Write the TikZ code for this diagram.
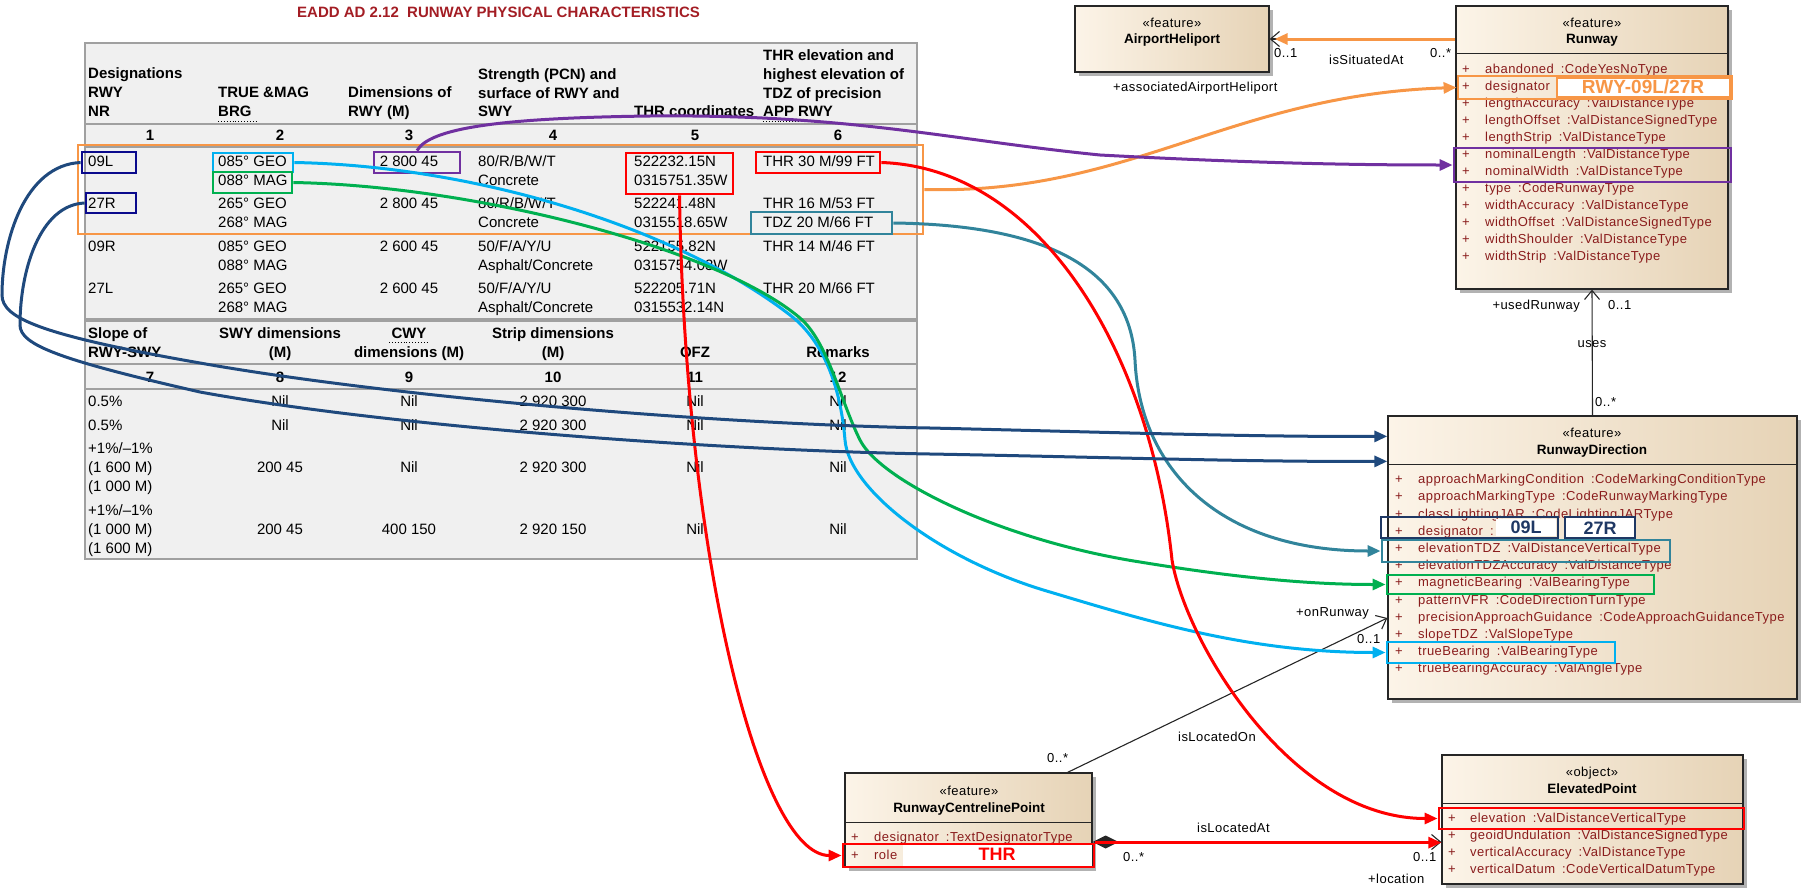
\documentclass[tikz,border=0pt]{standalone}
\usepackage{fontspec}
\setmainfont{Liberation Sans}
\newfontfamily\umlf[LetterSpace=3.5]{Liberation Sans}
\usetikzlibrary{fit,arrows.meta,calc,shadows}
\definecolor{tblbg}{HTML}{F0F0F0}
\definecolor{tblln}{HTML}{A0A0A0}
\definecolor{ttl}{HTML}{A31D24}
\definecolor{cOr}{HTML}{F79646}
\definecolor{cNv}{HTML}{1F497D}
\definecolor{cNvT}{HTML}{0A0A8C}
\definecolor{cCy}{HTML}{00B0F0}
\definecolor{cGr}{HTML}{00B050}
\definecolor{cPu}{HTML}{7030A0}
\definecolor{cTe}{HTML}{31849B}
\definecolor{cRd}{HTML}{FF0000}
\definecolor{umlL}{HTML}{FCF4E8}
\definecolor{umlR}{HTML}{E6D3B6}
\definecolor{attr}{HTML}{8A1C1C}
\definecolor{rdnv}{HTML}{1F3864}
\begin{document}
\begin{tikzpicture}[x=1pt,y=-1pt,
  tdW/.style={font=\fontsize{15}{18}\selectfont, inner sep=0pt, anchor=base west, yshift=-5.3pt},
  tdC/.style={font=\fontsize{15}{18}\selectfont, inner sep=0pt, anchor=base, yshift=-5.3pt},
  thW/.style={font=\fontsize{15}{18}\selectfont\bfseries, inner sep=0pt, anchor=base west, yshift=-5.3pt},
  thC/.style={font=\fontsize{15}{18}\selectfont\bfseries, inner sep=0pt, anchor=base, yshift=-5.3pt},
  umlbox/.style={draw=black!85, line width=1.3pt, left color=umlL, right color=umlR, inner sep=0pt,
     drop shadow={shadow xshift=4pt, shadow yshift=-4pt, fill=black!30, opacity=1}},
  divl/.style={draw=black!85, line width=1.3pt},
  stereo/.style={font=\umlf\fontsize{13}{15}\selectfont, inner sep=0pt, anchor=base, yshift=-4.6pt},
  cname/.style={font=\fontsize{13.5}{16}\selectfont\bfseries, inner sep=0pt, anchor=base, yshift=-4.8pt},
  attrS/.style={font=\umlf\fontsize{13}{15}\selectfont, text=attr, inner sep=0pt, anchor=base west, yshift=-4.6pt},
  plusS/.style={font=\fontsize{13}{15}\selectfont, text=attr, inner sep=0pt, anchor=base, yshift=-4.6pt},
  lab/.style={font=\umlf\fontsize{13}{15}\selectfont, inner sep=0pt, anchor=base west, yshift=-4.6pt},
  hlbox/.style={draw, line width=2.8pt, inner sep=0pt},
  hlcurve/.style={line width=3pt, -{Triangle[length=13pt,width=11pt]}},
  assoc/.style={draw=black!85, line width=1.1pt},
  barb/.style={-{Straight Barb[length=9pt,width=15pt]}}
]
\useasboundingbox (0,0) rectangle (1805,894);

% ---------------- title ----------------
\node[font=\fontsize{15}{18}\selectfont\bfseries, text=ttl, inner sep=0pt, anchor=base west, yshift=-5.3pt] (title) at (297,12) {EADD AD 2.12\ \ RUNWAY PHYSICAL CHARACTERISTICS};

% ---------------- table ----------------
\node[fit={(85,43) (917,559)}, inner sep=0pt, fill=tblbg, draw=tblln, line width=1.5pt] (tbl) {};
\draw[tblln, line width=1.5pt] (85,124) -- (917,124);
\draw[tblln, line width=1.5pt] (85,147) -- (917,147);
\draw[tblln, line width=3.5pt] (85,320) -- (917,320);
\draw[tblln, line width=1.5pt] (85,364) -- (917,364);
\draw[tblln, line width=1.5pt] (85,389) -- (917,389);
\draw[dotted, line width=0.9pt] (218,121) -- (257,121);
\draw[dotted, line width=0.9pt] (763,121) -- (799,121);
\draw[dotted, line width=0.9pt] (389,342) -- (429,342);

\node[thW] (h1a) at (88,73) {Designations};
\node[thW] (h1b) at (88,92) {RWY};
\node[thW] (h1c) at (88,111) {NR};
\node[thW] (h2a) at (218,92) {TRUE \&MAG};
\node[thW] (h2b) at (218,111) {BRG};
\node[thW] (h3a) at (348,92) {Dimensions of};
\node[thW] (h3b) at (348,111) {RWY (M)};
\node[thW] (h4a) at (478,74) {Strength (PCN) and};
\node[thW] (h4b) at (478,93) {surface of RWY and};
\node[thW] (h4c) at (478,111) {SWY};
\node[thW] (h5a) at (634,111) {THR coordinates};
\node[thW] (h6a) at (763,55) {THR elevation and};
\node[thW] (h6b) at (763,74) {highest elevation of};
\node[thW] (h6c) at (763,93) {TDZ of precision};
\node[thW] (h6d) at (763,111) {APP RWY};
\node[thC] (n1) at (150,135) {1};
\node[thC] (n2) at (280,135) {2};
\node[thC] (n3) at (409,135) {3};
\node[thC] (n4) at (553,135) {4};
\node[thC] (n5) at (695,135) {5};
\node[thC] (n6) at (838,135) {6};

\node[tdW] (d1a) at (88,161) {09L};
\node[tdW] (d1b) at (218,161) {085° GEO};
\node[tdC] (d1c) at (409,161) {2 800 45};
\node[tdW] (d1d) at (478,161) {80/R/B/W/T};
\node[tdW] (d1e) at (634,161) {522232.15N};
\node[tdW] (d1f) at (763,161) {THR 30 M/99 FT};
\node[tdW] (d1g) at (218,180) {088° MAG};
\node[tdW] (d1h) at (478,180) {Concrete};
\node[tdW] (d1i) at (634,180) {0315751.35W};
\node[tdW] (d2a) at (88,203) {27R};
\node[tdW] (d2b) at (218,203) {265° GEO};
\node[tdC] (d2c) at (409,203) {2 800 45};
\node[tdW] (d2d) at (478,203) {80/R/B/W/T};
\node[tdW] (d2e) at (634,203) {522241.48N};
\node[tdW] (d2f) at (763,203) {THR 16 M/53 FT};
\node[tdW] (d2g) at (218,222) {268° MAG};
\node[tdW] (d2h) at (478,222) {Concrete};
\node[tdW] (d2i) at (634,222) {0315518.65W};
\node[tdW] (d2j) at (763,222) {TDZ 20 M/66 FT};
\node[tdW] (d3a) at (88,246) {09R};
\node[tdW] (d3b) at (218,246) {085° GEO};
\node[tdC] (d3c) at (409,246) {2 600 45};
\node[tdW] (d3d) at (478,246) {50/F/A/Y/U};
\node[tdW] (d3e) at (634,246) {522155.82N};
\node[tdW] (d3f) at (763,246) {THR 14 M/46 FT};
\node[tdW] (d3g) at (218,265) {088° MAG};
\node[tdW] (d3h) at (478,265) {Asphalt/Concrete};
\node[tdW] (d3i) at (634,265) {0315754.03W};
\node[tdW] (d4a) at (88,288) {27L};
\node[tdW] (d4b) at (218,288) {265° GEO};
\node[tdC] (d4c) at (409,288) {2 600 45};
\node[tdW] (d4d) at (478,288) {50/F/A/Y/U};
\node[tdW] (d4e) at (634,288) {522205.71N};
\node[tdW] (d4f) at (763,288) {THR 20 M/66 FT};
\node[tdW] (d4g) at (218,307) {268° MAG};
\node[tdW] (d4h) at (478,307) {Asphalt/Concrete};
\node[tdW] (d4i) at (634,307) {0315532.14N};

\node[thW] (k1a) at (88,333) {Slope of};
\node[thW] (k1b) at (88,352) {RWY-SWY};
\node[thC] (k2a) at (280,333) {SWY dimensions};
\node[thC] (k2b) at (280,352) {(M)};
\node[thC] (k3a) at (409,333) {CWY};
\node[thC] (k3b) at (409,352) {dimensions (M)};
\node[thC] (k4a) at (553,333) {Strip dimensions};
\node[thC] (k4b) at (553,352) {(M)};
\node[thC] (k5a) at (695,352) {OFZ};
\node[thC] (k6a) at (838,352) {Remarks};
\node[thC] (n7) at (150,377) {7};
\node[thC] (n8) at (280,377) {8};
\node[thC] (n9) at (409,377) {9};
\node[thC] (n10) at (553,377) {10};
\node[thC] (n11) at (695,377) {11};
\node[thC] (n12) at (838,377) {12};

\node[tdW] (e1a) at (88,401) {0.5\%};
\node[tdC] (e1b) at (280,401) {Nil};
\node[tdC] (e1c) at (409,401) {Nil};
\node[tdC] (e1d) at (553,401) {2 920 300};
\node[tdC] (e1e) at (695,401) {Nil};
\node[tdC] (e1f) at (838,401) {Nil};
\node[tdW] (e2a) at (88,425) {0.5\%};
\node[tdC] (e2b) at (280,425) {Nil};
\node[tdC] (e2c) at (409,425) {Nil};
\node[tdC] (e2d) at (553,425) {2 920 300};
\node[tdC] (e2e) at (695,425) {Nil};
\node[tdC] (e2f) at (838,425) {Nil};
\node[tdW] (e3a) at (88,448) {+1\%/–1\%};
\node[tdW] (e3g) at (88,467) {(1 600 M)};
\node[tdW] (e3h) at (88,486) {(1 000 M)};
\node[tdC] (e3b) at (280,467) {200 45};
\node[tdC] (e3c) at (409,467) {Nil};
\node[tdC] (e3d) at (553,467) {2 920 300};
\node[tdC] (e3e) at (695,467) {Nil};
\node[tdC] (e3f) at (838,467) {Nil};
\node[tdW] (e4a) at (88,510) {+1\%/–1\%};
\node[tdW] (e4g) at (88,529) {(1 000 M)};
\node[tdW] (e4h) at (88,548) {(1 600 M)};
\node[tdC] (e4b) at (280,529) {200 45};
\node[tdC] (e4c) at (409,529) {400 150};
\node[tdC] (e4d) at (553,529) {2 920 150};
\node[tdC] (e4e) at (695,529) {Nil};
\node[tdC] (e4f) at (838,529) {Nil};

% ---------------- UML classes ----------------
\node[umlbox, fit={(1075,6) (1269,72)}] (ah) {};
\node[stereo] (ahs) at (1172,23) {«feature»};
\node[cname] (ahn) at (1172,39) {AirportHeliport};

\node[umlbox, fit={(1456,6) (1728,289)}] (rw) {};
\draw[divl] ($(rw.north west)+(0,48)$) -- ($(rw.north east)+(0,48)$);
\node[stereo] (rws) at (1592,23) {«feature»};
\node[cname] (rwn) at (1592,39) {Runway};
\foreach \n/\t [count=\i from 0] in {abandoned/CodeYesNoType, designator/{}, lengthAccuracy/ValDistanceType, lengthOffset/ValDistanceSignedType, lengthStrip/ValDistanceType, nominalLength/ValDistanceType, nominalWidth/ValDistanceType, type/CodeRunwayType, widthAccuracy/ValDistanceType, widthOffset/ValDistanceSignedType, widthShoulder/ValDistanceType, widthStrip/ValDistanceType}{
  \node[plusS] (rwp\i) at (1466,{69+17*\i}) {+};
  \node[attrS] (rwa\i) at (1485,{69+17*\i}) {\n\hspace{7pt}:\t};
}

\node[umlbox, fit={(1388,416) (1797,699)}] (rd) {};
\draw[divl] ($(rd.north west)+(0,49)$) -- ($(rd.north east)+(0,49)$);
\node[stereo] (rds) at (1592,433) {«feature»};
\node[cname] (rdn) at (1592,450) {RunwayDirection};
\foreach \n/\t [count=\i from 0] in {approachMarkingCondition/CodeMarkingConditionType, approachMarkingType/CodeRunwayMarkingType, classLightingJAR/CodeLightingJARType, designator/{}, elevationTDZ/ValDistanceVerticalType, elevationTDZAccuracy/ValDistanceType, magneticBearing/ValBearingType, patternVFR/CodeDirectionTurnType, precisionApproachGuidance/CodeApproachGuidanceType, slopeTDZ/ValSlopeType, trueBearing/ValBearingType, trueBearingAccuracy/ValAngleType}{
  \node[plusS] (rdp\i) at (1399,{479+17.2*\i}) {+};
  \node[attrS] (rda\i) at (1418,{479+17.2*\i}) {\n\hspace{7pt}:\t};
}

\node[umlbox, fit={(845,773) (1092,867)}] (rcp) {};
\draw[divl] ($(rcp.north west)+(0,50)$) -- ($(rcp.north east)+(0,50)$);
\node[stereo] (rcps) at (969,791) {«feature»};
\node[cname] (rcpn) at (969,808) {RunwayCentrelinePoint};
\node[plusS] (rcpp0) at (855,837) {+};
\node[attrS] (rcpa0) at (874,837) {designator\hspace{7pt}:TextDesignatorType};
\node[plusS] (rcpp1) at (855,855) {+};
\node[attrS] (rcpa1) at (874,855) {role};

\node[umlbox, fit={(1442,755) (1743,884)}] (ep) {};
\draw[divl] ($(ep.north west)+(0,49)$) -- ($(ep.north east)+(0,49)$);
\node[stereo] (eps) at (1592,772) {«object»};
\node[cname] (epn) at (1592,789) {ElevatedPoint};
\foreach \n/\t [count=\i from 0] in {elevation/ValDistanceVerticalType, geoidUndulation/ValDistanceSignedType, verticalAccuracy/ValDistanceType, verticalDatum/CodeVerticalDatumType}{
  \node[plusS] (epp\i) at (1452,{818+17*\i}) {+};
  \node[attrS] (epa\i) at (1470,{818+17*\i}) {\n\hspace{7pt}:\t};
}

% ---------------- black associations ----------------
\draw[assoc, barb] (rw.west |- ah.east) -- (ah.east);
\draw[assoc, barb] (rd.north) -- (rw.south);
\coordinate (rcpon) at ($(rcp.north east)+(-25,0)$);
\coordinate (rdon) at ($(rd.west)+(0,60.5)$);
\draw[assoc, barb] (rcpon) -- (rdon);
\coordinate (rcpat) at ($(rcp.east)+(0,22)$);
\draw[assoc, {Diamond[length=26pt,width=13pt]}-{Straight Barb[length=9pt,width=15pt]}] (rcpat) -- (ep.west |- rcpat);

% labels
\node[lab] (l1) at (1274,53) {0..1};
\node[lab] (l2) at (1329,60) {isSituatedAt};
\node[lab] (l3) at (1430,53) {0..*};
\node[lab] (l4) at (1113,87) {+associatedAirportHeliport};
\node[lab, anchor=base east] (l5) at (1580,305) {+usedRunway};
\node[lab] (l6) at (1608,305) {0..1};
\node[lab, anchor=base] (l7) at (1592,343) {uses};
\node[lab] (l8) at (1595,402) {0..*};
\node[lab] (l9) at (1296,612) {+onRunway};
\node[lab] (l10) at (1357,639) {0..1};
\node[lab] (l11) at (1178,737) {isLocatedOn};
\node[lab] (l12) at (1047,758) {0..*};
\node[lab] (l13) at (1197,828) {isLocatedAt};
\node[lab] (l14) at (1123,857) {0..*};
\node[lab] (l15) at (1413,857) {0..1};
\node[lab] (l16) at (1368,879) {+location};

% ---------------- highlight boxes: table ----------------
\node[hlbox, draw=cOr, fit={(78,145) (923,234)}] (borng) {};
\node[hlbox, draw=cNvT, fit={(82,152) (136,173)}] (b09L) {};
\node[hlbox, draw=cNvT, fit={(86,193) (136,213)}] (b27R) {};
\node[hlbox, draw=cCy, fit={(213,153) (293,172)}] (bgeo) {};
\node[hlbox, draw=cGr, fit={(213,172) (292,193)}] (bmag) {};
\node[hlbox, draw=cPu, fit={(374,152) (460,173)}] (bdim) {};
\node[hlbox, draw=cRd, fit={(626,153) (733,194)}] (bcoord) {};
\node[hlbox, draw=cRd, fit={(756,152) (880,173)}] (bthr) {};
\node[hlbox, draw=cTe, fit={(751,212) (892,234)}] (btdz) {};

% ---------------- highlight boxes: classes ----------------
\node[hlbox, draw=cOr, fit={(1458,76) (1732,99)}] (rwdes) {};
\node[draw=cOr, line width=1.5pt, fill=white, inner sep=0pt, fit={(1557,78) (1730,97)}] (rwdesv) {};
\node[font=\fontsize{19}{22}\selectfont\bfseries, text=cOr, inner sep=0pt, anchor=base, yshift=-6.8pt] (rwdest) at (1643,87) {RWY-09L/27R};
\node[hlbox, draw=cPu, fit={(1454,148) (1731,182)}] (rwnom) {};

\node[hlbox, draw=rdnv, fit={(1381,517) (1558,538)}] (rdd1) {};
\node[fill=white, inner sep=0pt, fit={(1496,519) (1556,536)}] (rdd1v) {};
\node[font=\fontsize{18}{21}\selectfont\bfseries, text=rdnv, inner sep=0pt, anchor=base, yshift=-6.4pt] (rdd1t) at (1526,527) {09L};
\node[hlbox, draw=rdnv, fill=white, fit={(1565,517) (1635,538)}] (rdd2) {};
\node[font=\fontsize{18}{21}\selectfont\bfseries, text=rdnv, inner sep=0pt, anchor=base, yshift=-6.4pt] (rdd2t) at (1600,528) {27R};
\node[hlbox, draw=cTe, fit={(1382,540) (1670,562)}] (rdet) {};
\node[hlbox, draw=cGr, fit={(1387,575) (1654,594)}] (rdmb) {};
\node[hlbox, draw=cCy, fit={(1387,642) (1615,663)}] (rdtb) {};
\coordinate (rd09) at ($(rd.north west)+(0,21)$);
\coordinate (rd27) at ($(rd.north west)+(0,46)$);

\node[fill=white, inner sep=0pt, fit={(903,845) (1092,866)}] (rcprolev) {};
\node[hlbox, draw=cRd, fit={(843,844) (1094,867)}] (rcprole) {};
\node[font=\fontsize{18}{21}\selectfont\bfseries, text=cRd, inner sep=0pt, anchor=base, yshift=-6.4pt] (rcpthr) at (997,854) {THR};

\node[hlbox, draw=cRd, fit={(1439,808) (1744,829)}] (epel) {};

% ---------------- coloured connectors ----------------
\coordinate (ahin) at ($(ah.east)+(5,0)$);
\draw[hlcurve, cOr] (rw.west |- ah.east) -- (ahin);
\draw[hlcurve, cOr] (borng.east) .. controls (1130,195) and (1230,95) .. (rwdes.west);
\draw[hlcurve, cPu] (bdim.north) .. controls (430,128) and (500,118) .. (650,116)
   .. controls (850,114) and (950,140) .. (1100,155)
   .. controls (1250,163) and (1350,165) .. (rwnom.west);
\draw[hlcurve, cCy] (bgeo.east) .. controls (480,166) and (680,230) .. (790,315)
   .. controls (820,338) and (840,380) .. (845,440)
   .. controls (849,490) and (940,560) .. (1050,592)
   .. controls (1150,622) and (1250,652.5) .. (rdtb.west);
\draw[hlcurve, cGr] (bmag.east) .. controls (480,186) and (720,250) .. (800,318)
   .. controls (828,342) and (840,400) .. (860,440)
   .. controls (880,480) and (1000,540) .. (1140,562)
   .. controls (1250,580) and (1320,584.5) .. (rdmb.west);
\draw[hlcurve, cTe] (btdz.east) .. controls (1050,225) and (1130,270) .. (1135,360)
   .. controls (1140,470) and (1220,551) .. (rdet.west);
\draw[hlcurve, cRd] (bcoord.south) .. controls (685,560) and (760,855.5) .. (rcprole.west);
\draw[hlcurve, cRd] (bthr.east) .. controls (1040,168) and (1150,350) .. (1172,560)
   .. controls (1185,640) and (1290,818.5) .. (epel.west);
\draw[hlcurve, cRd] (rcprole.north east) -- (ep.west |- rcprole.north east);
\draw[hlcurve, cNv] (b09L.west) .. controls (25,165) and (2,240) .. (2,295)
   .. controls (2,318) and (40,335) .. (200,363)
   .. controls (380,395) and (700,424) .. (930,428)
   .. controls (1100,432) and (1250,437) .. (rd09);
\draw[hlcurve, cNv] (b27R.west) .. controls (40,205) and (20,270) .. (20,325)
   .. controls (20,345) and (60,360) .. (200,392)
   .. controls (380,425) and (700,450) .. (930,454)
   .. controls (1100,457) and (1250,462) .. (rd27);
\end{tikzpicture}
\end{document}
